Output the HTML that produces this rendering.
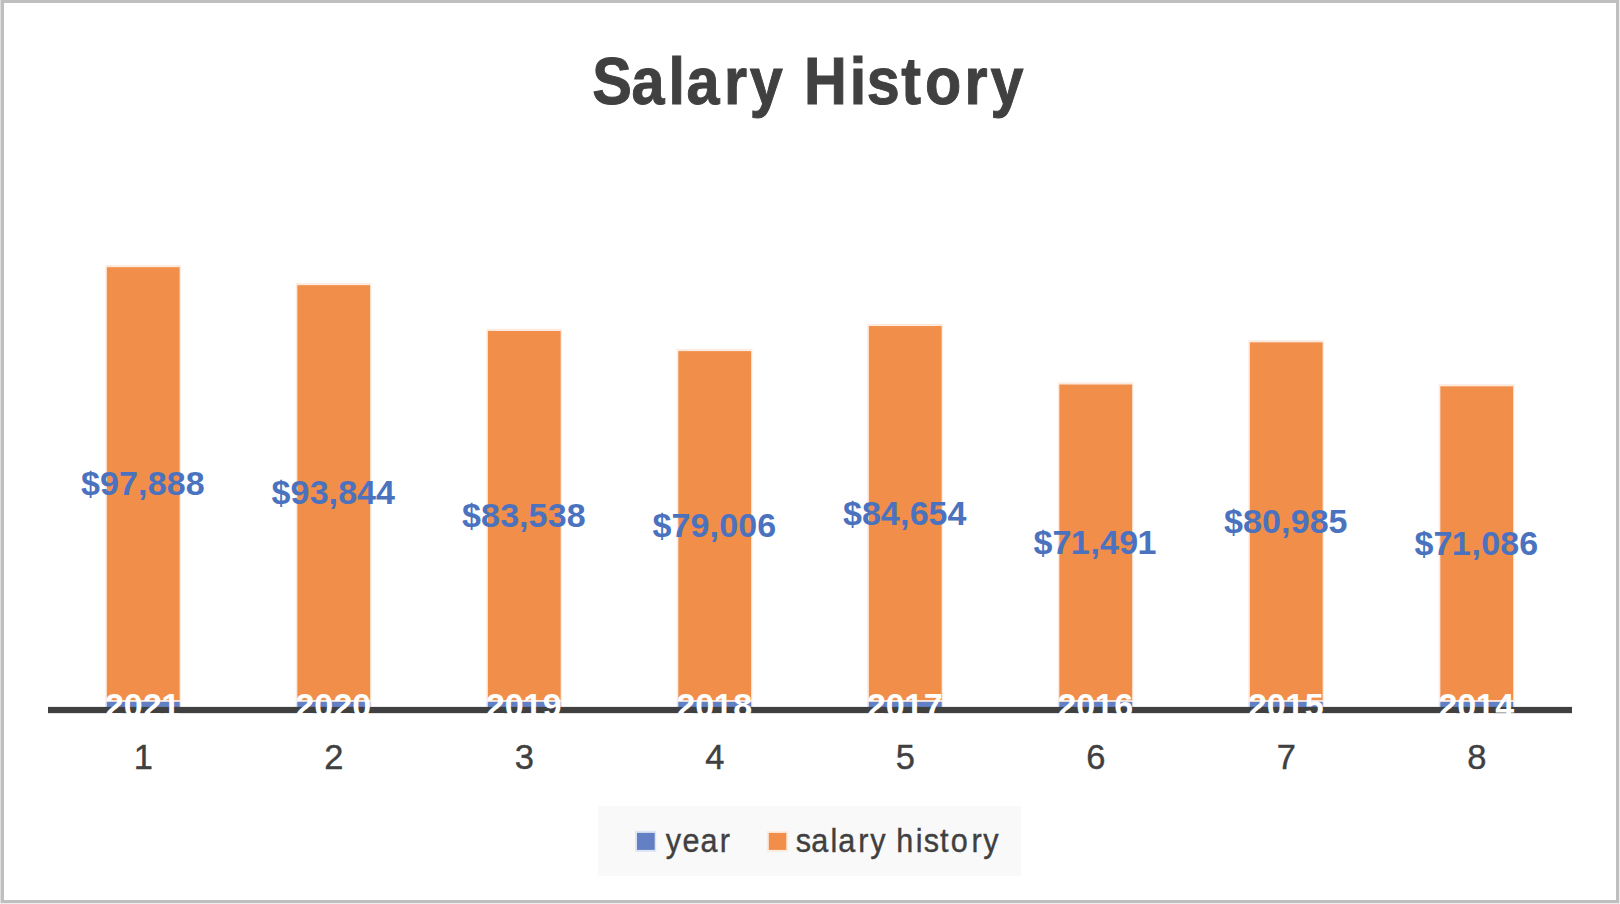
<!DOCTYPE html>
<html lang="en"><head><meta charset="utf-8"><title>Salary History</title>
<style>html,body{margin:0;padding:0;background:#fff;}body{width:1620px;height:904px;overflow:hidden;}svg{display:block;}text{font-family:"Liberation Sans",sans-serif;white-space:pre;}.b{font-weight:bold;}</style></head><body>
<svg width="1620" height="904" viewBox="0 0 1620 904">
<rect x="0" y="0" width="1620" height="904" fill="#ffffff"/>
<g shape-rendering="crispEdges">
<rect x="0" y="0" width="1" height="904" fill="#DDDDDD"/>
<rect x="1" y="0" width="3" height="903" fill="#BFBFBF"/>
<rect x="1" y="0" width="1618" height="3" fill="#BFBFBF"/>
<rect x="1616" y="0" width="3" height="903" fill="#BFBFBF"/>
<rect x="1619" y="0" width="1" height="904" fill="#EDEDED"/>
<rect x="1" y="900" width="1618" height="3" fill="#BFBFBF"/>
<rect x="0" y="903" width="1620" height="1" fill="#EEEEEE"/>
</g>
<text class="b" transform="scale(0.88,1)" x="672.92 717.63 759.70 780.12 822.73 852.10 892.26 913.67 965.52 985.09 1024.10 1051.13 1096.16 1125.44" y="104.50" font-size="67.4" fill="#404040" stroke="#404040" stroke-width="1.0">Salary History</text>
<rect x="105.25" y="265.00" width="75.60" height="436.81" fill="#FDEBDF"/>
<rect x="105.25" y="701.82" width="75.60" height="8.98" fill="#DDE3F3"/>
<rect x="106.85" y="267.20" width="72.80" height="432.81" fill="#F08E4A"/>
<rect x="106.85" y="701.82" width="72.80" height="8.98" fill="#6380C4"/>
<rect x="295.75" y="282.98" width="75.60" height="418.84" fill="#FDEBDF"/>
<rect x="295.75" y="701.82" width="75.60" height="8.98" fill="#DDE3F3"/>
<rect x="297.35" y="285.18" width="72.80" height="414.84" fill="#F08E4A"/>
<rect x="297.35" y="701.82" width="72.80" height="8.98" fill="#6380C4"/>
<rect x="486.25" y="328.78" width="75.60" height="373.04" fill="#FDEBDF"/>
<rect x="486.25" y="701.83" width="75.60" height="8.97" fill="#DDE3F3"/>
<rect x="487.85" y="330.98" width="72.80" height="369.04" fill="#F08E4A"/>
<rect x="487.85" y="701.83" width="72.80" height="8.97" fill="#6380C4"/>
<rect x="676.75" y="348.93" width="75.60" height="352.90" fill="#FDEBDF"/>
<rect x="676.75" y="701.83" width="75.60" height="8.97" fill="#DDE3F3"/>
<rect x="678.35" y="351.13" width="72.80" height="348.90" fill="#F08E4A"/>
<rect x="678.35" y="701.83" width="72.80" height="8.97" fill="#6380C4"/>
<rect x="867.25" y="323.83" width="75.60" height="378.00" fill="#FDEBDF"/>
<rect x="867.25" y="701.84" width="75.60" height="8.96" fill="#DDE3F3"/>
<rect x="868.85" y="326.03" width="72.80" height="374.00" fill="#F08E4A"/>
<rect x="868.85" y="701.84" width="72.80" height="8.96" fill="#6380C4"/>
<rect x="1057.75" y="382.33" width="75.60" height="319.51" fill="#FDEBDF"/>
<rect x="1057.75" y="701.84" width="75.60" height="8.96" fill="#DDE3F3"/>
<rect x="1059.35" y="384.53" width="72.80" height="315.51" fill="#F08E4A"/>
<rect x="1059.35" y="701.84" width="72.80" height="8.96" fill="#6380C4"/>
<rect x="1248.25" y="340.15" width="75.60" height="361.70" fill="#FDEBDF"/>
<rect x="1248.25" y="701.85" width="75.60" height="8.95" fill="#DDE3F3"/>
<rect x="1249.85" y="342.35" width="72.80" height="357.70" fill="#F08E4A"/>
<rect x="1249.85" y="701.85" width="72.80" height="8.95" fill="#6380C4"/>
<rect x="1438.75" y="384.14" width="75.60" height="317.71" fill="#FDEBDF"/>
<rect x="1438.75" y="701.85" width="75.60" height="8.95" fill="#DDE3F3"/>
<rect x="1440.35" y="386.34" width="72.80" height="313.71" fill="#F08E4A"/>
<rect x="1440.35" y="701.85" width="72.80" height="8.95" fill="#6380C4"/>
<rect x="48" y="706.9" width="1524" height="6.25" fill="#404040"/>
<text class="b" x="80.96 99.99 118.96 138.01 147.63 166.63 185.63" y="495.41" font-size="34" fill="#4A72BE">$97,888</text>
<text class="b" x="104.89 123.82 142.89 161.20" y="717.41" font-size="34" fill="#ffffff">2021</text>
<text x="143.25" y="769" font-size="34.5" text-anchor="middle" fill="#404040" stroke="#404040" stroke-width="0.4">1</text>
<text class="b" x="271.46 290.49 309.67 328.51 338.13 356.98 375.98" y="504.40" font-size="34" fill="#4A72BE">$93,844</text>
<text class="b" x="295.39 314.32 333.39 352.32" y="717.41" font-size="34" fill="#ffffff">2020</text>
<text x="333.75" y="769" font-size="34.5" text-anchor="middle" fill="#404040" stroke="#404040" stroke-width="0.4">2</text>
<text class="b" x="461.96 480.93 500.17 519.01 528.60 547.87 566.63" y="527.31" font-size="34" fill="#4A72BE">$83,538</text>
<text class="b" x="485.89 504.82 523.20 542.84" y="717.41" font-size="34" fill="#ffffff">2019</text>
<text x="524.25" y="769" font-size="34.5" text-anchor="middle" fill="#404040" stroke="#404040" stroke-width="0.4">3</text>
<text class="b" x="652.46 671.46 690.49 709.51 719.17 738.17 757.14" y="537.38" font-size="34" fill="#4A72BE">$79,006</text>
<text class="b" x="676.39 695.32 713.70 733.28" y="717.42" font-size="34" fill="#ffffff">2018</text>
<text x="714.75" y="769" font-size="34.5" text-anchor="middle" fill="#404040" stroke="#404040" stroke-width="0.4">4</text>
<text class="b" x="842.96 861.93 880.78 900.01 909.64 928.60 947.48" y="524.84" font-size="34" fill="#4A72BE">$84,654</text>
<text class="b" x="866.89 885.82 904.20 923.81" y="717.42" font-size="34" fill="#ffffff">2017</text>
<text x="905.25" y="769" font-size="34.5" text-anchor="middle" fill="#404040" stroke="#404040" stroke-width="0.4">5</text>
<text class="b" x="1033.46 1052.46 1070.85 1090.51 1099.98 1119.19 1137.55" y="554.09" font-size="34" fill="#4A72BE">$71,491</text>
<text class="b" x="1057.39 1076.32 1094.70 1114.29" y="717.42" font-size="34" fill="#ffffff">2016</text>
<text x="1095.75" y="769" font-size="34.5" text-anchor="middle" fill="#404040" stroke="#404040" stroke-width="0.4">6</text>
<text class="b" x="1223.96 1242.93 1261.97 1281.01 1290.69 1309.63 1328.60" y="533.00" font-size="34" fill="#4A72BE">$80,985</text>
<text class="b" x="1247.89 1266.82 1285.20 1304.75" y="717.42" font-size="34" fill="#ffffff">2015</text>
<text x="1286.25" y="769" font-size="34.5" text-anchor="middle" fill="#404040" stroke="#404040" stroke-width="0.4">7</text>
<text class="b" x="1414.46 1433.46 1451.85 1471.51 1481.17 1500.13 1519.14" y="555.00" font-size="34" fill="#4A72BE">$71,086</text>
<text class="b" x="1438.39 1457.32 1475.70 1495.13" y="717.42" font-size="34" fill="#ffffff">2014</text>
<text x="1476.75" y="769" font-size="34.5" text-anchor="middle" fill="#404040" stroke="#404040" stroke-width="0.4">8</text>
<rect x="598" y="806" width="423" height="70" fill="#F9F9F9"/>
<rect x="635.2" y="830.8" width="21" height="21" fill="#DDE3F3"/>
<rect x="637" y="832.9" width="17.7" height="17" fill="#6380C4"/>
<text transform="scale(0.9,1)" x="739.83 758.39 778.21 799.77" y="851.80" font-size="34" fill="#404040" stroke="#404040" stroke-width="0.4">year</text>
<rect x="766.9" y="830.8" width="21.2" height="21" fill="#FDEBDF"/>
<rect x="768.8" y="832.9" width="17.5" height="17" fill="#F08E4A"/>
<text transform="scale(0.9,1)" x="884.14 901.44 922.70 931.52 953.68 966.92 985.18 995.89 1017.41 1026.27 1044.57 1056.53 1079.37 1092.44" y="851.80" font-size="34" fill="#404040" stroke="#404040" stroke-width="0.4">salary history</text>
</svg></body></html>
